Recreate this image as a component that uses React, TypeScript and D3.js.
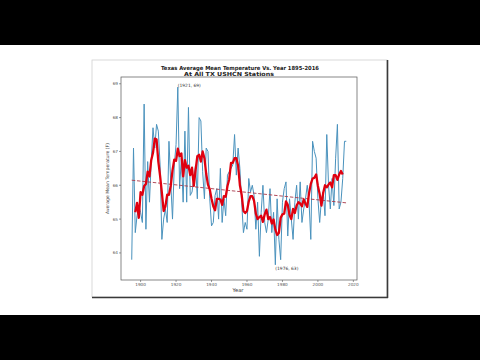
import React from "react";
import * as d3 from "d3";

const startYear = 1895;
const temps: number[] = [
  63.8, 67.1, 64.6, 65.1, 65.4, 65.2, 64.9, 68.4, 64.7, 66.7, // 1895-1904
  65.5, 66.7, 67.7, 67.1, 67.8, 67.6, 66.6, 64.4, 65.0, 65.3, // 1905-1914
  64.9, 67.3, 66.1, 65.0, 66.6, 67.2, 68.9, 65.9, 66.8, 65.5, // 1915-1924
  67.6, 65.5, 68.3, 65.7, 65.8, 66.2, 66.6, 65.6, 68.0, 67.9, // 1925-1934
  66.4, 65.6, 67.1, 67.0, 65.6, 64.8, 64.9, 65.7, 65.9, 65.0, // 1935-1944
  66.5, 64.9, 65.6, 65.1, 66.3, 66.4, 66.5, 66.6, 67.5, 66.3, // 1945-1954
  67.1, 66.5, 65.5, 64.6, 64.9, 64.7, 66.2, 65.8, 66.0, 65.7, // 1955-1964
  64.7, 65.5, 63.9, 65.2, 66.0, 64.9, 64.6, 65.0, 65.9, 64.6, // 1965-1974
  65.2, 63.65, 65.6, 64.4, 63.8, 65.5, 65.9, 66.1, 64.5, 65.6, // 1975-1984
  65.0, 64.4, 65.5, 66.0, 65.0, 66.1, 64.9, 65.3, 65.6, 66.0, // 1985-1994
  65.5, 64.4, 67.3, 67.0, 66.8, 65.6, 64.9, 65.6, 65.8, 65.1, // 1995-2004
  67.5, 66.0, 65.3, 66.2, 65.4, 66.8, 67.8, 65.3, 65.5, 66.2, // 2005-2014
  67.3, 67.3, // 2015-2016
];
const years: number[] = temps.map((_, i) => startYear + i);

const trendYears = [1895, 2016];
const trendValues = [66.15, 65.48];

const xTicks = [1900, 1920, 1940, 1960, 1980, 2000, 2020];
const yTicks = [64, 65, 66, 67, 68, 69];

const titleLines = [
  "Texas Average Mean Temperature Vs. Year 1895-2016",
  "At All TX USHCN Stations",
];

const WINDOW = 5;

export default function App() {
  const x = d3.scaleLinear().domain([1888.95, 2022.05]).range([121, 357]);
  const y = d3.scaleLinear().domain([63.2, 69.2]).range([280, 77]);

  const data = years.map((yr, i) => ({ yr, v: temps[i] }));
  const half = Math.floor(WINDOW / 2);
  const rolling = data
    .map((d, i) => {
      if (i < half || i >= data.length - half) return null;
      const m = d3.mean(temps.slice(i - half, i + half + 1)) as number;
      return { yr: d.yr, v: m };
    })
    .filter((d) => d !== null) as { yr: number; v: number }[];

  const line = d3
    .line<{ yr: number; v: number }>()
    .x((d) => x(d.yr))
    .y((d) => y(d.v));

  const maxI = d3.maxIndex(temps);
  const minI = d3.minIndex(temps);
  const trend = trendYears.map((yr, i) => ({ yr, v: trendValues[i] }));

  const font = "DejaVu Sans, sans-serif";
  const [x0, x1] = x.range();
  const [yb, yt] = y.range();

  return (
    <svg
      width={480}
      height={360}
      style={{ position: "absolute", left: 0, top: 0, background: "#fff" }}
      fontFamily={font}
    >
      <rect x={0} y={0} width={480} height={45} fill="#000" />
      <rect x={0} y={315} width={480} height={45} fill="#000" />
      {/* figure frame */}
      <rect x={92} y={60} width={295} height={237} fill="#fff" stroke="#d0d0d0" strokeWidth={0.8} />
      <line x1={387.5} y1={60} x2={387.5} y2={298} stroke="#3a3a3a" strokeWidth={1.6} />
      <line x1={92} y1={297.5} x2={388} y2={297.5} stroke="#3a3a3a" strokeWidth={1.6} />

      {/* title */}
      <text x={240} y={69.5} textAnchor="middle" fontSize={5.6} fontWeight="bold" fill="#222" textLength={158} lengthAdjust="spacingAndGlyphs">
        {titleLines[0]}
      </text>
      <text x={229} y={75.6} textAnchor="middle" fontSize={5.6} fontWeight="bold" fill="#222" textLength={90} lengthAdjust="spacingAndGlyphs">
        {titleLines[1]}
      </text>

      {/* axes box */}
      <rect x={x0} y={yt} width={x1 - x0} height={yb - yt} fill="none" stroke="#555" strokeWidth={0.7} />

      {/* x ticks */}
      {xTicks.map((t) => (
        <g key={t}>
          <line x1={x(t)} x2={x(t)} y1={yb} y2={yb + 2} stroke="#555" strokeWidth={0.6} />
          <text x={x(t)} y={286} textAnchor="middle" fontSize={4.2} fill="#555">
            {t}
          </text>
        </g>
      ))}
      {/* y ticks */}
      {yTicks.map((t) => (
        <g key={t}>
          <line x1={x0 - 2} x2={x0} y1={y(t)} y2={y(t)} stroke="#555" strokeWidth={0.6} />
          <text x={x0 - 3} y={y(t) + 1.5} textAnchor="end" fontSize={4.2} fill="#555">
            {t}
          </text>
        </g>
      ))}

      <text x={238} y={292} textAnchor="middle" fontSize={5.2} fill="#333">
        Year
      </text>
      <text
        transform={`translate(109, ${(yt + yb) / 2}) rotate(-90)`}
        textAnchor="middle"
        fontSize={4.6}
        fill="#444"
      >
        Average Mean Temperature (F)
      </text>

      {/* data */}
      <path d={line(data) ?? ""} fill="none" stroke="#4a92bd" strokeWidth={1} />
      <path d={line(trend) ?? ""} fill="none" stroke="#a8384a" strokeWidth={0.9} strokeDasharray="3.5,1.8" />
      <path d={line(rolling) ?? ""} fill="none" stroke="#e0000f" strokeWidth={2.3} strokeLinejoin="round" />

      {/* annotations */}
      <text x={x(years[maxI])} y={y(temps[maxI])} fontSize={4.4} fill="#333">
        ({years[maxI]}, {Math.floor(temps[maxI] + 0.1)})
      </text>
      <text x={x(years[minI])} y={y(temps[minI]) + 5} fontSize={4.4} fill="#333">
        ({years[minI]}, {Math.floor(temps[minI])})
      </text>
    </svg>
  );
}
